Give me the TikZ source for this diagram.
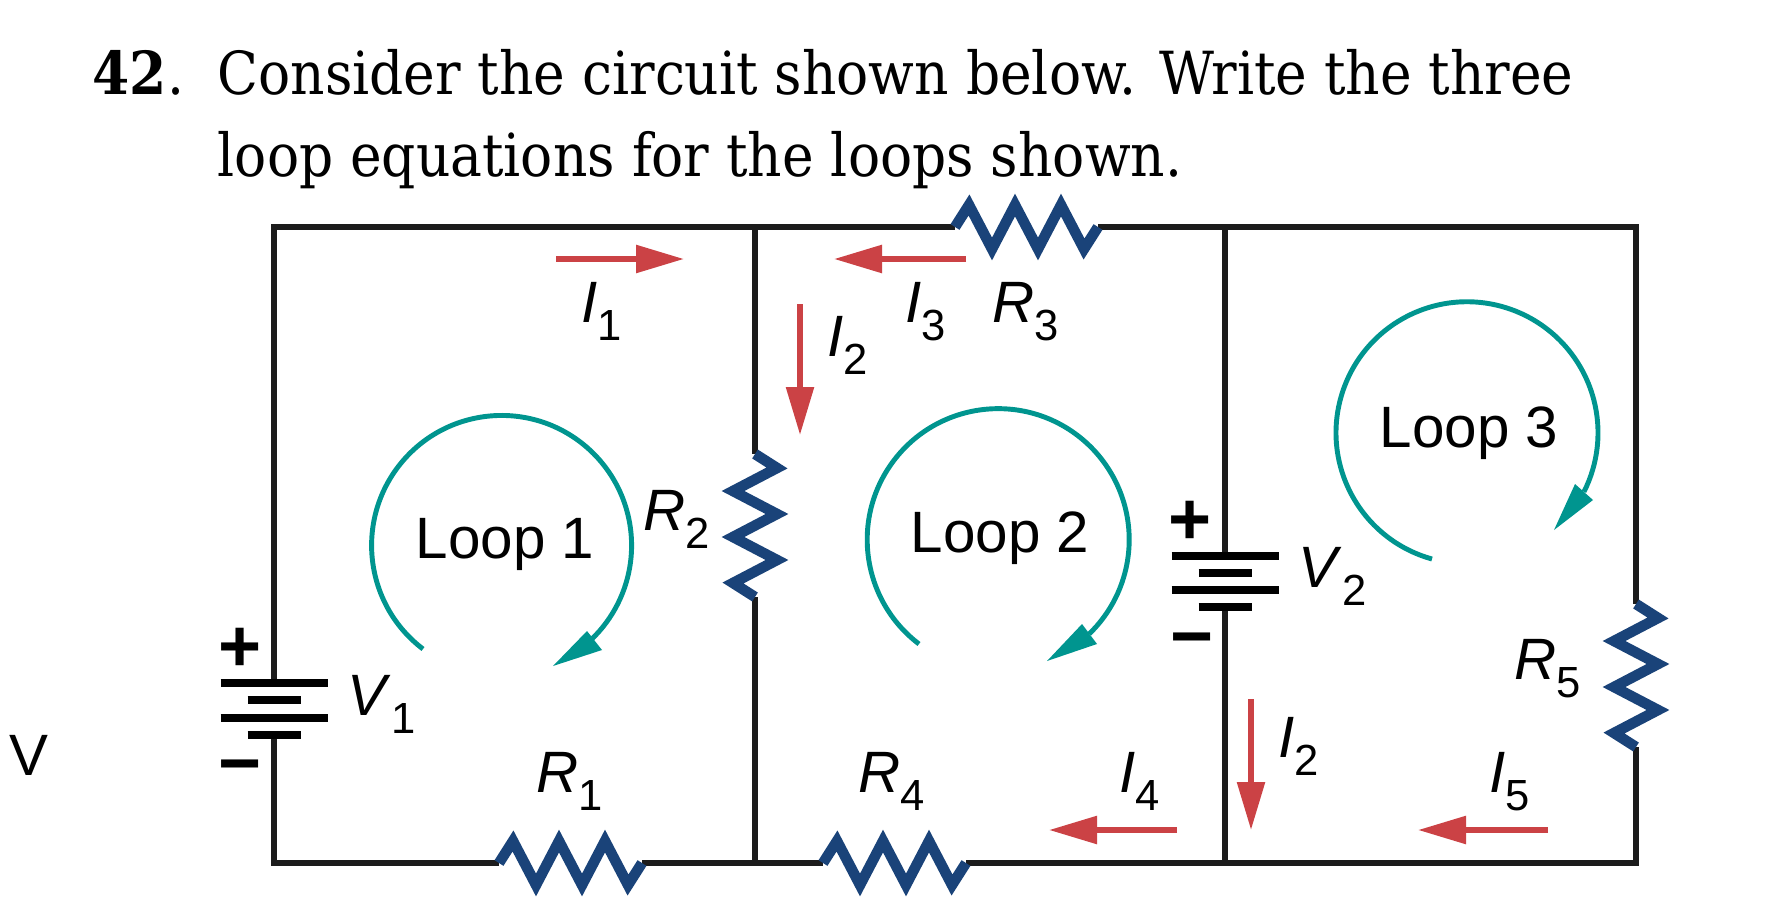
\documentclass[tikz,border=0pt]{standalone}
\usepackage{fontspec}
\setmainfont{Liberation Sans}
\newfontfamily\headfont{DejaVu Serif Condensed}
\usetikzlibrary{arrows.meta}
\definecolor{wirecol}{HTML}{1C1C1C}
\definecolor{rescol}{HTML}{1A4379}
\definecolor{curcol}{HTML}{CB4245}
\definecolor{turncol}{HTML}{00958F}

% symbol with a low subscript
\newcommand{\sym}[2]{\textit{#1}\raisebox{-5.4pt}{\fontsize{12.4}{12.4}\selectfont #2}}
% resistor zigzag, as a relative path
\newcommand{\zig}{-- ++(.14,.22) -- ++(.23,-.44) -- ++(.23,.44) -- ++(.23,-.44) -- ++(.23,.44) -- ++(.23,-.44) -- ++(.14,.22)}

\begin{document}
\begin{tikzpicture}[
heading/.style={font=\headfont\fontsize{16.9}{16.9}\selectfont, inner sep=0, anchor=base west},
tag/.style={font=\fontsize{16.6}{16.6}\selectfont, inner sep=0, anchor=base west},
sign/.style={font=\fontsize{21}{21}\selectfont\bfseries, inner sep=0, anchor=base},
wire/.style={draw=wirecol, line width=1.75pt},
resistor/.style={draw=rescol, line width=3pt, line join=miter},
plate/.style={draw=black, line width=2pt},
current/.style={draw=curcol, line width=1.6pt, -{Triangle[length=.48cm,width=.27cm]}},
turn/.style={draw=turncol, line width=1.4pt},
turnhead/.style={fill=turncol},
]
\useasboundingbox (0,0) rectangle (17.7,-9.24);

% Define the circuit corners and junctions
\coordinate (tl) at (2.74,-2.27);     % Top-left
\coordinate (tm) at (7.55,-2.27);     % Top, first branch
\coordinate (tn) at (12.25,-2.27);    % Top, second branch
\coordinate (tr) at (16.36,-2.27);    % Top-right
\coordinate (bl) at (2.74,-8.63);     % Bottom-left
\coordinate (bm) at (7.55,-8.63);     % Bottom, first branch
\coordinate (bn) at (12.25,-8.63);    % Bottom, second branch
\coordinate (br) at (16.36,-8.63);    % Bottom-right

% Ends of the parts
\coordinate (r1a) at (4.99,-8.63);
\coordinate (r1b) at (6.42,-8.63);
\coordinate (r2a) at (7.55,-4.54);
\coordinate (r2b) at (7.55,-5.97);
\coordinate (r3a) at (9.55,-2.27);
\coordinate (r3b) at (10.98,-2.27);
\coordinate (r4a) at (8.23,-8.63);
\coordinate (r4b) at (9.66,-8.63);
\coordinate (r5a) at (16.36,-6.04);
\coordinate (r5b) at (16.36,-7.47);
\coordinate (v1a) at (2.74,-6.83);
\coordinate (v1b) at (2.74,-7.35);
\coordinate (v2a) at (12.25,-5.56);
\coordinate (v2b) at (12.25,-6.07);

% Ends of the current arrows
\coordinate (i1_tail) at (5.56,-2.59);
\coordinate (i1_tip) at (6.84,-2.59);
\coordinate (i3_tail) at (9.66,-2.59);
\coordinate (i3_tip) at (8.34,-2.59);
\coordinate (i2_tail) at (8.00,-3.04);
\coordinate (i2_tip) at (8.00,-4.35);
\coordinate (j2_tail) at (12.51,-6.99);
\coordinate (j2_tip) at (12.51,-8.30);
\coordinate (i4_tail) at (11.77,-8.30);
\coordinate (i4_tip) at (10.49,-8.30);
\coordinate (i5_tail) at (15.48,-8.30);
\coordinate (i5_tip) at (14.18,-8.30);

% Start points of the loop arcs
\coordinate (l1_start) at (4.23,-6.49);
\coordinate (l2_start) at (9.19,-6.44);
\coordinate (l3_start) at (14.32,-5.59);

% Heading
\node[heading, font=\headfont\fontsize{16.9}{16.9}\selectfont\bfseries] (head_num) at (.92,-.95) {42\textmd{.}};
\node[heading] (head_a) at (2.17,-.95) {Consider the circuit shown below. Write the three};
\node[heading] (head_b) at (2.17,-1.77) {loop equations for the loops shown.};

% Draw wires
\draw[wire] (v1a) -- (tl) -- (r3a);
\draw[wire] (r3b) -- (tr) -- (r5a);
\draw[wire] (r5b) -- (br) -- (r4b);
\draw[wire] (r4a) -- (r1b);
\draw[wire] (r1a) -- (bl) -- (v1b);
\draw[wire] (tm) -- (r2a);
\draw[wire] (r2b) -- (bm);
\draw[wire] (tn) -- (v2a);
\draw[wire] (v2b) -- (bn);

% Draw resistors
\draw[resistor] (r1a) \zig;
\draw[resistor] (r3a) \zig;
\draw[resistor] (r4a) \zig;
\draw[resistor, rotate=-90] (r2a) \zig;
\draw[resistor, rotate=-90] (r5a) \zig;

% Draw batteries
\draw[plate] (v1a) ++(-.535,0) -- ++(1.07,0);
\draw[plate] (v1a) ++(-.265,-.17) -- ++(.53,0);
\draw[plate] (v1a) ++(-.535,-.35) -- ++(1.07,0);
\draw[plate] (v1b) ++(-.265,0) -- ++(.53,0);
\draw[plate] (v2a) ++(-.535,0) -- ++(1.07,0);
\draw[plate] (v2a) ++(-.265,-.17) -- ++(.53,0);
\draw[plate] (v2a) ++(-.535,-.34) -- ++(1.07,0);
\draw[plate] (v2b) ++(-.265,0) -- ++(.53,0);
\node[sign] (v1_plus) at (2.40,-6.71) {+};
\node[sign] (v1_minus) at (2.40,-7.88) {−};
\node[sign] (v2_plus) at (11.90,-5.44) {+};
\node[sign] (v2_minus) at (11.92,-6.61) {−};

% Draw current arrows
\draw[current] (i1_tail) -- (i1_tip);
\draw[current] (i3_tail) -- (i3_tip);
\draw[current] (i2_tail) -- (i2_tip);
\draw[current] (j2_tail) -- (j2_tip);
\draw[current] (i4_tail) -- (i4_tip);
\draw[current] (i5_tail) -- (i5_tip);

% Draw loop arcs
\draw[turn] (l1_start) arc[start angle=232.8, end angle=-46, radius=1.3];
\draw[turn] (l2_start) arc[start angle=232.8, end angle=-46, radius=1.31];
\draw[turn] (l3_start) arc[start angle=254.5, end angle=-26.8, radius=1.31];
\fill[turnhead] (5.53,-6.66) -- (5.87,-6.31) -- (6.02,-6.50) -- cycle;
\fill[turnhead] (10.47,-6.61) -- (10.82,-6.24) -- (10.97,-6.44) -- cycle;
\fill[turnhead] (15.54,-5.30) -- (15.75,-4.84) -- (15.93,-5.00) -- cycle;

% Labels
\node[tag] (lab_i1) at (5.81,-3.22) {\sym{I}{1}};
\node[tag] (lab_i2) at (8.27,-3.56) {\sym{I}{2}};
\node[tag] (lab_i3) at (9.05,-3.22) {\sym{I}{3}};
\node[tag] (lab_r3) at (9.92,-3.22) {\sym{R}{3}};
\node[tag] (lab_r2) at (6.43,-5.30) {\sym{R}{2}};
\node[tag] (lab_v1) at (3.47,-7.15) {\sym{V}{1}};
\node[tag] (lab_r1) at (5.36,-7.92) {\sym{R}{1}};
\node[tag] (lab_r4) at (8.58,-7.92) {\sym{R}{4}};
\node[tag] (lab_i4) at (11.19,-7.92) {\sym{I}{4}};
\node[tag] (lab_i5) at (14.89,-7.92) {\sym{I}{5}};
\node[tag] (lab_j2) at (12.78,-7.57) {\sym{I}{2}};
\node[tag] (lab_r5) at (15.14,-6.79) {\sym{R}{5}};
\node[tag] (lab_v2) at (12.98,-5.87) {\sym{V}{2}};
\node[tag] (lab_l1) at (4.15,-5.58) {Loop 1};
\node[tag] (lab_l2) at (9.10,-5.52) {Loop 2};
\node[tag] (lab_l3) at (13.79,-4.47) {Loop 3};
\node[tag] (lab_v) at (.09,-7.75) {V};

\end{tikzpicture}
\end{document}
